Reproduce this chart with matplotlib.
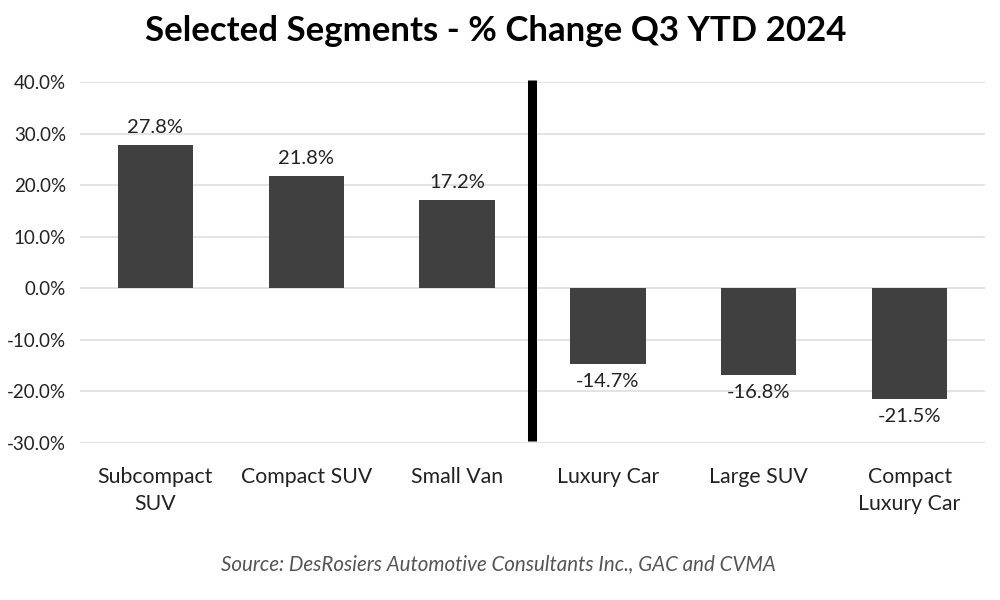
import matplotlib
matplotlib.use("Agg")
import matplotlib.pyplot as plt
import numpy as np

categories = ["Subcompact\nSUV", "Compact SUV", "Small Van", "Luxury Car", "Large SUV", "Compact\nLuxury Car"]
values = [27.8, 21.8, 17.2, -14.7, -16.8, -21.5]
yticks = [40, 30, 20, 10, 0, -10, -20, -30]

plt.rcParams['font.family'] = ['Lato', 'DejaVu Sans']

fig = plt.figure(figsize=(10, 6), dpi=100)
ax = fig.add_axes([0.08, 0.2617, 0.905, 0.6016])

x = np.arange(len(categories))
ax.bar(x, values, width=0.5, color="#404040", zorder=3)
ax.set_xlim(-0.5, len(categories) - 0.5)
ax.set_ylim(-30, 40)
ax.set_yticks(yticks)
ax.set_yticklabels([f"{t:.1f}%" for t in yticks], fontsize=13.5, color="#222222")
ax.set_xticks(x)
ax.set_xticklabels(categories, fontsize=15.3, color="#222222", linespacing=1.45)
ax.tick_params(axis='both', length=0)
ax.tick_params(axis='x', pad=17)
ax.tick_params(axis='y', pad=10)
ax.grid(axis='y', color="#dde2e8", linewidth=1.3, zorder=0)
for s in ax.spines.values():
    s.set_visible(False)

for xi, v in zip(x, values):
    if v >= 0:
        ax.text(xi, v + 1.7, f"{v:.1f}%", ha='center', va='bottom', fontsize=14.5, color="#222222")
    else:
        ax.text(xi, v - 1.8, f"{v:.1f}%", ha='center', va='top', fontsize=14.5, color="#222222")

ax.plot([2.5, 2.5], [40.3, -29.6], color="black", linewidth=6.5, solid_capstyle='butt', zorder=4, clip_on=False)

fig.text(0.496, 0.948, "Selected Segments - % Change Q3 YTD 2024", ha='center', va='center',
         fontsize=25, fontweight='bold', color="black")
fig.text(0.498, 0.06, "Source: DesRosiers Automotive Consultants Inc., GAC and CVMA", ha='center', va='center',
         fontsize=14.8, style='italic', color="#555555")

fig.savefig("out.png", dpi=100)
